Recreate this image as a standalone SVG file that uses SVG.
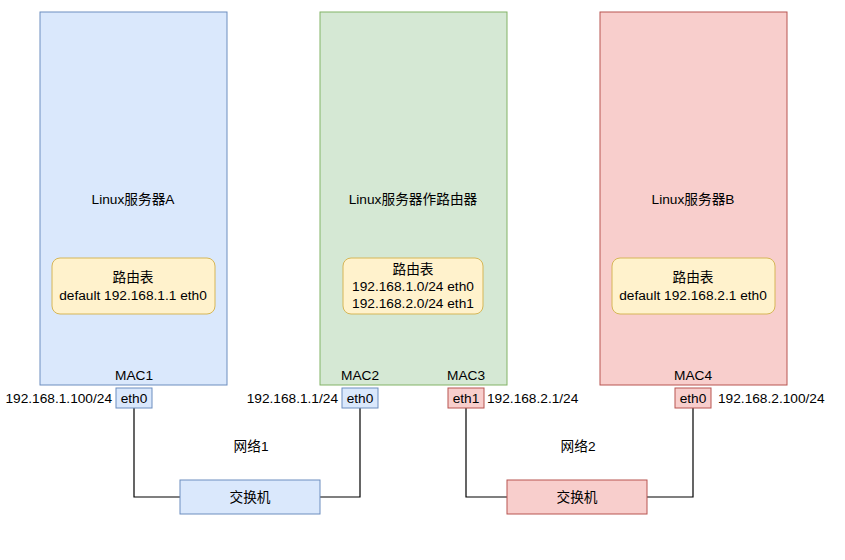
<svg xmlns="http://www.w3.org/2000/svg" width="845" height="560" viewBox="0 0 845 560">
<style>
text{font-family:"Liberation Sans","Noto Sans CJK SC",sans-serif;font-size:13.7px;fill:#000;text-anchor:middle}
.l{text-anchor:start}.r{text-anchor:end}
.blue{fill:#dae8fc;stroke:#6c8ebf}
.green{fill:#d5e8d4;stroke:#82b366}
.red{fill:#f8cecc;stroke:#b85450}
.rt{fill:#fff2cc;stroke:#d6b656}
.c{fill:none;stroke:#000;stroke-width:1.2}
</style>
<rect width="845" height="560" fill="#fff"/>
<g id="serverA"><rect class="blue" x="40" y="12" width="187" height="373"/><text x="133" y="204">Linux服务器A</text></g>
<g id="router"><rect class="green" x="320" y="12" width="187" height="373"/><text x="413" y="204">Linux服务器作路由器</text></g>
<g id="serverB"><rect class="red" x="600" y="12" width="187" height="373"/><text x="693" y="204">Linux服务器B</text></g>
<g id="rtA"><rect class="rt" x="52" y="258" width="163" height="56" rx="8"/><text x="133" y="282">路由表</text><text x="133" y="300">default 192.168.1.1 eth0</text></g>
<g id="rtR"><rect class="rt" x="343" y="258" width="140" height="56" rx="8"/><text x="413" y="274">路由表</text><text x="413" y="291">192.168.1.0/24 eth0</text><text x="413" y="308">192.168.2.0/24 eth1</text></g>
<g id="rtB"><rect class="rt" x="612" y="258" width="163" height="56" rx="8"/><text x="693" y="282">路由表</text><text x="693" y="300">default 192.168.2.1 eth0</text></g>
<g id="connectors">
<path class="c" d="M134 408V497H180"/>
<path class="c" d="M320 497H360V408"/>
<path class="c" d="M466 408V497H507"/>
<path class="c" d="M647 497H693V408"/>
</g>
<g id="ethA"><rect class="blue" x="116" y="388" width="36" height="20"/><text x="134" y="403">eth0</text><text x="134" y="380">MAC1</text><text class="r" x="112" y="403">192.168.1.100/24</text></g>
<g id="ethR0"><rect class="blue" x="342" y="388" width="36" height="20"/><text x="360" y="403">eth0</text><text x="360" y="380">MAC2</text><text class="r" x="338" y="403">192.168.1.1/24</text></g>
<g id="ethR1"><rect class="red" x="448" y="388" width="36" height="20"/><text x="466" y="403">eth1</text><text x="466" y="380">MAC3</text><text class="l" x="487" y="403">192.168.2.1/24</text></g>
<g id="ethB"><rect class="red" x="675" y="388" width="36" height="20"/><text x="693" y="403">eth0</text><text x="693" y="380">MAC4</text><text class="l" x="718" y="403">192.168.2.100/24</text></g>
<g id="sw1"><rect class="blue" x="180" y="480" width="140" height="34"/><text x="250" y="502">交换机</text></g>
<g id="sw2"><rect class="red" x="507" y="480" width="140" height="34"/><text x="577" y="502">交换机</text></g>
<text x="251" y="451">网络1</text>
<text x="578" y="451">网络2</text>
</svg>
